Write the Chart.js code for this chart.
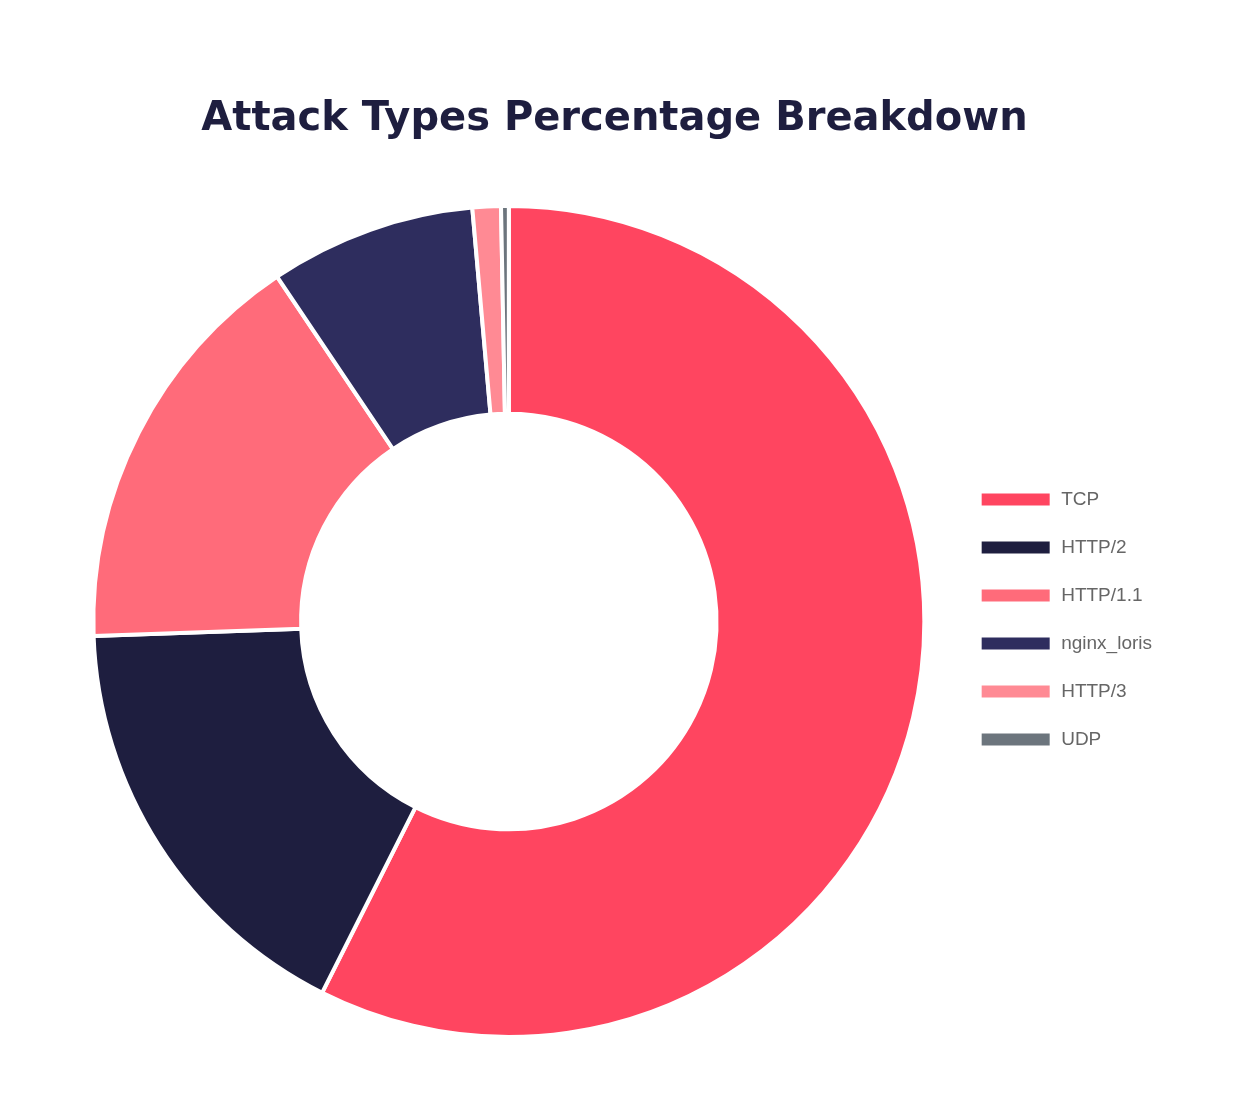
<!DOCTYPE html>
<html><head><meta charset="utf-8">
<script src="https://cdn.jsdelivr.net/npm/chart.js@4/dist/chart.umd.min.js"></script>
<style>html,body{margin:0;padding:0;background:#fff;}#wrap{width:1254px;height:1094px;}</style>
</head><body><div id="wrap"><canvas id="c" width="1254" height="1094"></canvas></div>
<script>
const categories = ["TCP","HTTP/2","HTTP/1.1","nginx_loris","HTTP/3","UDP"];
const values = [57.3,17.0,16.1,8.0,1.1,0.3];
const colors = ["#ff4560","#1e1e3f","#ff6b7a","#2e2d5e","#ff8a94","#6c757d"];
new Chart(document.getElementById('c'),{
 type:'doughnut',
 data:{labels:categories,datasets:[{data:values,backgroundColor:colors,borderColor:'#fff',borderWidth:4}]},
 options:{responsive:false,animation:false,cutout:'50%',
  layout:{padding:{left:67,right:92,top:8,bottom:55}},
  plugins:{
   title:{display:true,text:'Attack Types Percentage Breakdown',color:'#1e1e3f',font:{family:'DejaVu Sans',size:40,weight:'bold'},padding:{top:88,bottom:60}},
   legend:{position:'right',
    title:{display:true,text:' ',font:{size:10},padding:{top:0,bottom:180}},
    labels:{boxWidth:72,boxHeight:16,padding:29,color:'#666',font:{family:'Liberation Sans',size:19}}},
   tooltip:{enabled:false}
  }}
});
</script></body></html>
